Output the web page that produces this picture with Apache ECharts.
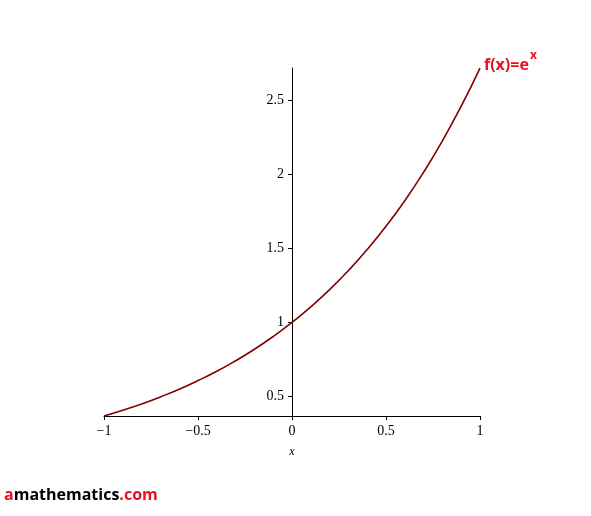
<!DOCTYPE html>
<html>
<head>
<meta charset="utf-8">
<script src="https://cdn.jsdelivr.net/npm/echarts@6/dist/echarts.min.js"></script>
<style>html,body{margin:0;padding:0;background:#fff}#chart{width:591px;height:516px}</style>
</head>
<body>
<div id="chart"></div>
<script>
// x positions and curve values
const xValues = [-1, -0.9, -0.8, -0.7, -0.6, -0.5, -0.4, -0.3, -0.2, -0.1, 0, 0.1, 0.2, 0.3, 0.4, 0.5, 0.6, 0.7, 0.8, 0.9, 1];
const yValues = [0.368, 0.407, 0.449, 0.497, 0.549, 0.607, 0.670, 0.741, 0.819, 0.905, 1, 1.105, 1.221, 1.350, 1.492, 1.649, 1.822, 2.014, 2.226, 2.460, 2.718];
const yTicks = [0.5, 1, 1.5, 2, 2.5];
const xTicks = [-1, -0.5, 0, 0.5, 1];

const chart = echarts.init(document.getElementById("chart"));
const fmt = v => String(v).replace("-", "\u2212");
const serif = "Liberation Serif";

chart.setOption({
    animation: false,
    grid: { left: 104, right: 111, top: 68, bottom: 100 },
    xAxis: {
        type: "value", min: -1, max: 1,
        axisLine: { onZero: false, lineStyle: { color: "#000" } },
        axisTick: { customValues: xTicks, length: 4, lineStyle: { color: "#000" } },
        axisLabel: { customValues: xTicks, formatter: fmt, color: "#000", fontFamily: serif, fontSize: 14, margin: 8 },
        splitLine: { show: false },
        name: "x", nameLocation: "middle", nameGap: 30,
        nameTextStyle: { fontFamily: serif, fontStyle: "italic", fontSize: 12, color: "#000" }
    },
    yAxis: {
        type: "value", min: Math.exp(-1), max: Math.E,
        offset: -188,
        axisLine: { onZero: false, lineStyle: { color: "#000" } },
        axisTick: { customValues: yTicks, length: 4, lineStyle: { color: "#000" } },
        axisLabel: { customValues: yTicks, formatter: fmt, color: "#000", fontFamily: serif, fontSize: 14, margin: 8 },
        splitLine: { show: false }
    },
    series: [{
        type: "line",
        data: xValues.map((x, i) => [x, yValues[i]]),
        smooth: true,
        showSymbol: false,
        lineStyle: { color: "#800000", width: 1.6 }
    }],
    graphic: [
        {
            type: "text", left: 484, top: 50,
            style: {
                text: "{b|f(x)=e}{s|x}",
                rich: {
                    b: { fill: "#e8101e", fontFamily: "Open Sans", fontWeight: "bold", fontSize: 16, padding: [10, 0, 0, 0] },
                    s: { fill: "#e8101e", fontFamily: "Open Sans", fontWeight: "bold", fontSize: 12, padding: [0, 0, 8, 1] }
                }
            }
        },
        {
            type: "text", left: 4, top: 487,
            style: {
                text: "{r|a}{k|mathematics}{r|.com}",
                rich: {
                    r: { fill: "#e8101e", fontFamily: "Open Sans", fontWeight: "bold", fontSize: 16 },
                    k: { fill: "#000", fontFamily: "Open Sans", fontWeight: "bold", fontSize: 16 }
                }
            }
        }
    ]
});
</script>
</body>
</html>
